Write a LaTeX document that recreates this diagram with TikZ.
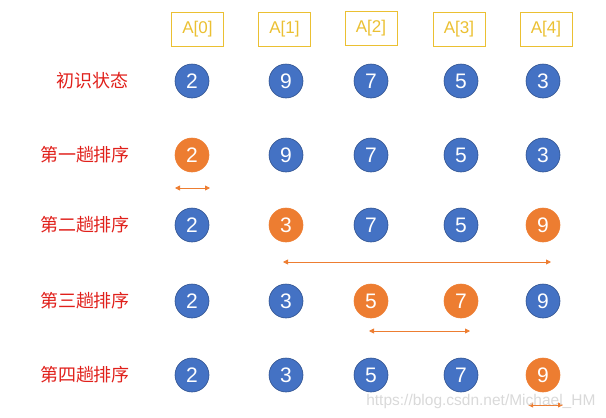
\documentclass[tikz,border=0pt]{standalone}
\usepackage{fontspec}
\setmainfont{Liberation Sans}
\newfontfamily\cjk{Noto Sans CJK SC}
\usetikzlibrary{positioning,arrows.meta}

\definecolor{cblue}{HTML}{4472C4}
\definecolor{cblueline}{HTML}{2F528F}
\definecolor{corange}{HTML}{ED7D31}
\definecolor{cred}{HTML}{E0201B}
\definecolor{cgold}{HTML}{EBC032}

\begin{document}
\begin{tikzpicture}[x=1pt, y=-1pt,
    blue/.style = {circle, fill=cblue, draw=cblueline, semithick, minimum size=34pt, inner sep=0pt, text=white, font=\fontsize{21}{21}\selectfont},
    orange/.style = {circle, fill=corange, draw=corange, semithick, minimum size=34pt, inner sep=0pt, text=white, font=\fontsize{21}{21}\selectfont},
    idx/.style = {draw=cgold, text=cgold, thick, minimum width=52pt, minimum height=34pt, inner sep=0pt, font=\fontsize{17}{17}\selectfont},
    rowlbl/.style = {text=cred, font=\cjk\fontsize{18}{18}\selectfont},
    swap/.style = {draw=corange, thick, {Triangle[length=5pt,width=5pt]}-{Triangle[length=5pt,width=5pt]}}]
    \useasboundingbox (0,0) rectangle (606,418);

    % index boxes
    \node[idx] (h0) at (197.5,29) {A[0]};
    \node[idx] (h1) at (284.5,29) {A[1]};
    \node[idx] (h2) at (371,28) {A[2]};
    \node[idx] (h3) at (459,29) {A[3]};
    \node[idx] (h4) at (546,29) {A[4]};

    % row labels
    \node[rowlbl] (l0) at (92.5,81) {初识状态};
    \node[rowlbl] (l1) at (85,155) {第一趟排序};
    \node[rowlbl] (l2) at (85,225) {第二趟排序};
    \node[rowlbl] (l3) at (85,301) {第三趟排序};
    \node[rowlbl] (l4) at (85,375) {第四趟排序};

    % initial state
    \node[blue] (a0) at (192,81) {2};
    \node[blue] (a1) at (286,81) {9};
    \node[blue] (a2) at (371,81) {7};
    \node[blue] (a3) at (461,81) {5};
    \node[blue] (a4) at (543,81) {3};

    % pass 1
    \node[orange] (b0) at (192,155) {2};
    \node[blue] (b1) at (286,155) {9};
    \node[blue] (b2) at (371,155) {7};
    \node[blue] (b3) at (461,155) {5};
    \node[blue] (b4) at (543,155) {3};

    % pass 2
    \node[blue] (c0) at (192,225) {2};
    \node[orange] (c1) at (286,225) {3};
    \node[blue] (c2) at (371,225) {7};
    \node[blue] (c3) at (461,225) {5};
    \node[orange] (c4) at (543,225) {9};

    % pass 3
    \node[blue] (d0) at (192,301) {2};
    \node[blue] (d1) at (286,301) {3};
    \node[orange] (d2) at (371,301) {5};
    \node[orange] (d3) at (461,301) {7};
    \node[blue] (d4) at (543,301) {9};

    % pass 4
    \node[blue] (e0) at (192,375) {2};
    \node[blue] (e1) at (286,375) {3};
    \node[blue] (e2) at (371,375) {5};
    \node[blue] (e3) at (461,375) {7};
    \node[orange] (e4) at (543,375) {9};

    % swap ranges
    \coordinate (s1l) at (175,188);
    \coordinate (s1r) at (210,188);
    \coordinate (s2l) at (283,262);
    \coordinate (s2r) at (551,262);
    \coordinate (s3l) at (369,331);
    \coordinate (s3r) at (470,331);
    \coordinate (s4l) at (528,405);
    \coordinate (s4r) at (563,405);
    \draw[swap] (s1l) -- (s1r);
    \draw[swap] (s2l) -- (s2r);
    \draw[swap] (s3l) -- (s3r);
    \draw[swap] (s4l) -- (s4r);

    \node[text=black!15, font=\fontsize{15.5}{15.5}\selectfont, anchor=east] (wm) at (599,401) {https://blog.csdn.net/Michael\_HM};
\end{tikzpicture}
\end{document}
